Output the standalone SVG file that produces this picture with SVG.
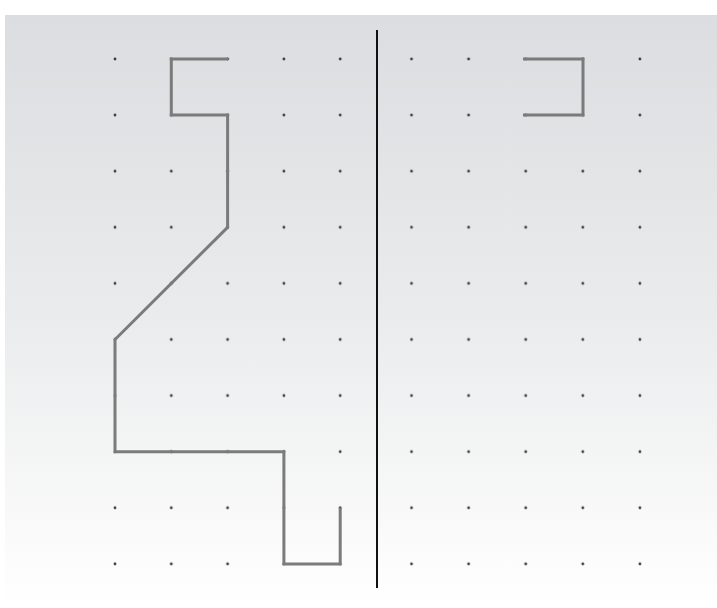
<svg xmlns="http://www.w3.org/2000/svg" width="717" height="608" viewBox="0 0 717 608">
<defs>
<linearGradient id="bg" x1="0" y1="0" x2="0" y2="1">
<stop offset="0" stop-color="#dcdde0"/>
<stop offset="0.5" stop-color="#eaebec"/>
<stop offset="1" stop-color="#ffffff"/>
</linearGradient>
<pattern id="dotsL" x="115" y="59" width="56.3" height="56.1" patternUnits="userSpaceOnUse">
<circle cx="0" cy="0" r="1.4" fill="#3a3a3a"/>
<circle cx="56.3" cy="0" r="1.4" fill="#3a3a3a"/>
<circle cx="0" cy="56.1" r="1.4" fill="#3a3a3a"/>
<circle cx="56.3" cy="56.1" r="1.4" fill="#3a3a3a"/>
</pattern>
<pattern id="dotsR" x="411.5" y="59" width="57.1" height="56.1" patternUnits="userSpaceOnUse">
<circle cx="0" cy="0" r="1.4" fill="#3a3a3a"/>
<circle cx="57.1" cy="0" r="1.4" fill="#3a3a3a"/>
<circle cx="0" cy="56.1" r="1.4" fill="#3a3a3a"/>
<circle cx="57.1" cy="56.1" r="1.4" fill="#3a3a3a"/>
</pattern>
<style>
.shape{fill:none;stroke:#7b7b7b;stroke-width:3;stroke-linejoin:miter;stroke-linecap:butt}
</style>
</defs>
<rect x="0" y="0" width="717" height="608" fill="#ffffff"/>
<rect x="5" y="15" width="712" height="593" fill="url(#bg)"/>
<g id="grid-left">
<rect x="113" y="57" width="230" height="510" fill="url(#dotsL)"/>
</g>
<g id="grid-right">
<rect x="409.5" y="57" width="233" height="510" fill="url(#dotsR)"/>
</g>
<g id="divider">
<line x1="377" y1="30" x2="377" y2="588" stroke="#111111" stroke-width="2"/>
</g>
<g id="connectors">
<polyline id="left-shape" class="shape" points="228,59 171.3,59 171.3,115.1 227.6,115.1 227.6,227.3 115,339.5 115,451.7 283.9,451.7 283.9,563.9 340.2,563.9 340.2,507.8"/>
<polyline id="right-shape" class="shape" points="523,59 583,59 583,115.1 523,115.1"/>
</g>
</svg>
